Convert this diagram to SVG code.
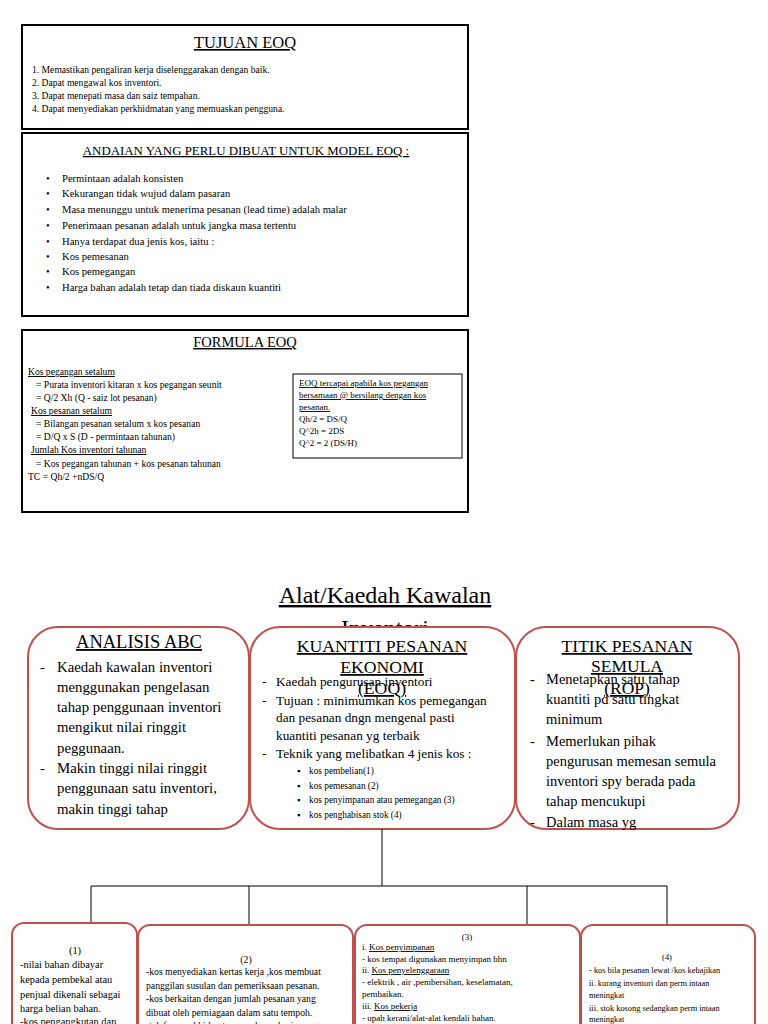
<svg xmlns="http://www.w3.org/2000/svg" width="768" height="1024" viewBox="0 0 768 1024">
<style>
.t{font-family:"Liberation Serif","DejaVu Serif",serif;fill:#000}
.u{text-decoration:underline}
.c{text-anchor:middle}
.box{fill:#fff;stroke:#000;stroke-width:2}
.ibox{fill:#fff;stroke:#000;stroke-width:1}
.rbox{fill:#fff;stroke:#C0504D;stroke-width:2}
.conn{stroke:#000;stroke-width:1;fill:none}
</style>
<rect width="768" height="1024" fill="#fff"/>

<g id="tujuan">
<rect class="box" x="22" y="25" width="446" height="104"/>
<text class="t u c" x="245" y="48" font-size="16.5">TUJUAN EOQ</text>
<g class="t" font-size="9.6">
<text x="32" y="73">1. Memastikan pengaliran kerja diselenggarakan dengan baik.</text>
<text x="32" y="86">2. Dapat mengawal kos inventori.</text>
<text x="32" y="99">3. Dapat menepati masa dan saiz tempahan.</text>
<text x="32" y="112">4. Dapat menyediakan perkhidmatan yang memuaskan pengguna.</text>
</g>
</g>

<g id="andaian">
<rect class="box" x="22" y="133" width="446" height="183"/>
<text class="t u c" x="246" y="155" font-size="12.9">ANDAIAN YANG PERLU DIBUAT UNTUK MODEL EOQ :</text>
<g class="t" font-size="10.6">
<text x="46" y="182">•</text><text x="62" y="182">Permintaan adalah konsisten</text>
<text x="46" y="197">•</text><text x="62" y="197">Kekurangan tidak wujud dalam pasaran</text>
<text x="46" y="213">•</text><text x="62" y="213">Masa menunggu untuk menerima pesanan (lead time) adalah malar</text>
<text x="46" y="229">•</text><text x="62" y="229">Penerimaan pesanan adalah untuk jangka masa tertentu</text>
<text x="46" y="245">•</text><text x="62" y="245">Hanya terdapat dua jenis kos, iaitu :</text>
<text x="46" y="260">•</text><text x="62" y="260">Kos pemesanan</text>
<text x="46" y="275">•</text><text x="62" y="275">Kos pemegangan</text>
<text x="46" y="291">•</text><text x="62" y="291">Harga bahan adalah tetap dan tiada diskaun kuantiti</text>
</g>
</g>

<g id="formula">
<rect class="box" x="22" y="330" width="446" height="182"/>
<text class="t u c" x="245" y="347" font-size="14.5">FORMULA EOQ</text>
<g class="t" font-size="9.6">
<text class="u" x="28" y="375">Kos pegangan setalum</text>
<text x="36" y="388">= Purata inventori kitaran x kos pegangan seunit</text>
<text x="36" y="401">= Q/2 Xh  (Q - saiz lot pesanan)</text>
<text class="u" x="31" y="414">Kos pesanan setalum</text>
<text x="36" y="427">= Bilangan pesanan setalum x kos pesanan</text>
<text x="36" y="440">= D/Q x S   (D -  permintaan tahunan)</text>
<text class="u" x="31" y="453">Jumlah Kos inventori tahunan</text>
<text x="36" y="467">= Kos pegangan tahunan + kos pesanan tahunan</text>
<text x="28" y="480">TC = Qh/2 +nDS/Q</text>
</g>
<rect class="ibox" x="293" y="374" width="169" height="84"/>
<g class="t" font-size="9">
<text class="u" x="299" y="386">EOQ tercapai apabila kos pegangan</text>
<text class="u" x="299" y="398">bersamaan @ bersilang dengan kos</text>
<text class="u" x="299" y="410">pesanan.</text>
<text x="299" y="422">Qh/2 = DS/Q</text>
<text x="299" y="434">Q^2h = 2DS</text>
<text x="299" y="446">Q^2 = 2 (DS/H)</text>
</g>
</g>

<g id="title">
<text class="t u c" x="385" y="603" font-size="24">Alat/Kaedah Kawalan</text>
<text class="t c" x="385" y="636" font-size="24">Inventori</text>
</g>

<g id="abc">
<rect class="rbox" x="28" y="627" width="221" height="202" rx="30"/>
<text class="t u c" x="139" y="648" font-size="18.5">ANALISIS ABC</text>
<g class="t" font-size="14.8">
<text x="40" y="672">-</text><text x="57" y="672">Kaedah kawalan inventori</text>
<text x="57" y="692">menggunakan pengelasan</text>
<text x="57" y="712">tahap penggunaan inventori</text>
<text x="57" y="732">mengikut nilai ringgit</text>
<text x="57" y="753">peggunaan.</text>
<text x="40" y="773">-</text><text x="57" y="773">Makin tinggi nilai ringgit</text>
<text x="57" y="793">penggunaan satu inventori,</text>
<text x="57" y="814">makin tinggi tahap</text>
</g>
</g>

<g id="rop">
<rect class="rbox" x="516" y="627" width="223" height="202" rx="30"/>
<g class="t" font-size="14.5">
<text x="530" y="684">-</text><text x="546" y="684">Menetapkan satu tahap</text>
<text x="546" y="704">kuantiti pd satu tingkat</text>
<text x="546" y="724">minimum</text>
<text x="530" y="746">-</text><text x="546" y="746">Memerlukan pihak</text>
<text x="546" y="766">pengurusan memesan semula</text>
<text x="546" y="786">inventori spy berada pada</text>
<text x="546" y="806">tahap mencukupi</text>
<text x="530" y="827">-</text><text x="546" y="827">Dalam masa yg</text>
</g>
<g class="t u c" font-size="17.5">
<text x="627" y="652">TITIK PESANAN</text>
<text x="627" y="672">SEMULA</text>
<text x="627" y="694">(ROP)</text>
</g>
</g>

<g id="eoq">
<rect class="rbox" x="250" y="627" width="265" height="202" rx="30"/>
<g class="t" font-size="13.3">
<text x="262" y="686">-</text><text x="276" y="686">Kaedah pengurusan inventori</text>
<text x="262" y="705">-</text><text x="276" y="705">Tujuan : minimumkan kos pemegangan</text>
<text x="276" y="722">dan pesanan dngn mengenal pasti</text>
<text x="276" y="740">kuantiti pesanan yg terbaik</text>
<text x="262" y="758">-</text><text x="276" y="758">Teknik yang melibatkan 4 jenis kos :</text>
</g>
<g class="t" font-size="9.3">
<text x="297" y="774">▪</text><text x="309" y="774">kos pembelian(1)</text>
<text x="297" y="789">▪</text><text x="309" y="789">kos pemesanan (2)</text>
<text x="297" y="803">▪</text><text x="309" y="803">kos penyimpanan atau pemegangan (3)</text>
<text x="297" y="818">▪</text><text x="309" y="818">kos penghabisan stok (4)</text>
</g>
<g class="t u c" font-size="17.7">
<text x="382" y="652">KUANTITI PESANAN</text>
<text x="382" y="673">EKONOMI</text>
<text x="382" y="694">(EOQ)</text>
</g>
</g>

<g id="connectors">
<path class="conn" d="M382 829V886M91 886H667M91 886V923M249 886V925M527 886V925M667 886V925"/>
</g>

<g id="cost1">
<rect class="rbox" x="12" y="923" width="125" height="130" rx="12"/>
<g class="t" font-size="10.4">
<text class="c" x="75" y="954">(1)</text>
<text x="20" y="968">-nilai bahan dibayar</text>
<text x="20" y="983">kepada pembekal atau</text>
<text x="20" y="998">penjual dikenali sebagai</text>
<text x="20" y="1012">harga belian bahan.</text>
<text x="20" y="1025">-kos pengangkutan dan</text>
</g>
</g>

<g id="cost2">
<rect class="rbox" x="138" y="925" width="215" height="130" rx="12"/>
<g class="t" font-size="9.7">
<text class="c" x="246" y="963">(2)</text>
<text x="146" y="975">-kos menyediakan kertas kerja ,kos membuat</text>
<text x="146" y="989">panggilan susulan dan pemeriksaan pesanan.</text>
<text x="146" y="1002">-kos berkaitan dengan jumlah pesanan yang</text>
<text x="146" y="1016">dibuat oleh perniagaan dalam satu tempoh.</text>
<text x="146" y="1029">-telefon, perkhidmatan pos dan pekerja yang</text>
</g>
</g>

<g id="cost3">
<rect class="rbox" x="355" y="925" width="225" height="130" rx="12"/>
<g class="t" font-size="9">
<text class="c" x="467" y="940">(3)</text>
<text x="362" y="950">i. <tspan class="u">Kos penyimpanan</tspan></text>
<text x="362" y="962">- kos tempat digunakan menyimpan bhn</text>
<text x="362" y="973">ii. <tspan class="u">Kos penyelenggaraan</tspan></text>
<text x="362" y="985">- elektrik , air ,pembersihan, keselamatan,</text>
<text x="362" y="997">pembaikan.</text>
<text x="362" y="1009">iii. <tspan class="u">Kos pekerja</tspan></text>
<text x="362" y="1021">- upah kerani/alat-alat kendali bahan.</text>
</g>
</g>

<g id="cost4">
<rect class="rbox" x="581" y="925" width="174" height="130" rx="12"/>
<g class="t" font-size="8.4">
<text class="c" x="667" y="960">(4)</text>
<text x="589" y="973">- kos bila pesanan lewat /kos kebajikan</text>
<text x="589" y="986">ii. kurang inventori dan perm intaan</text>
<text x="589" y="998">meningkat</text>
<text x="589" y="1011">iii. stok kosong sedangkan perm intaan</text>
<text x="589" y="1022">meningkat</text>
</g>
</g>
</svg>
